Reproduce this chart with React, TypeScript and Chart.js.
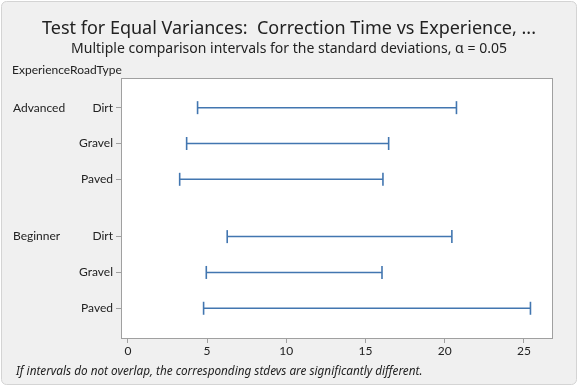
import { useEffect, useRef } from "react";
import { Chart, registerables } from "chart.js";

Chart.register(...registerables);

const TITLE = "Test for Equal Variances:  Correction Time vs Experience, ...";
const SUBTITLE = "Multiple comparison intervals for the standard deviations, α = 0.05";
const FACTOR_HEADER = "ExperienceRoadType";
const FOOTNOTE = "If intervals do not overlap, the corresponding stdevs are significantly different.";

const experienceLevels = ["Advanced", "Beginner"];
const roadTypes = ["Dirt", "Gravel", "Paved"];
// interval bounds, in row order: Advanced Dirt/Gravel/Paved, Beginner Dirt/Gravel/Paved
const lowerBounds = [4.4, 3.71, 3.27, 6.27, 4.95, 4.78];
const upperBounds = [20.74, 16.46, 16.1, 20.45, 16.04, 25.41];
const xTickValues = [0, 5, 10, 15, 20, 25];

const FONT = '"Noto Sans", sans-serif';
const LABEL_FONT = 'Lato, "Noto Sans", sans-serif';
const TEXT_COLOR = "#222222";
const LINE_COLOR = "#4276b0";
const GROUP_GAP = 0.6;

type Row = { level: string; road: string; pos: number; first: boolean };
const rows: Row[] = experienceLevels.flatMap((level, g) =>
  roadTypes.map((road, i) => ({
    level,
    road,
    pos: g * (roadTypes.length + GROUP_GAP) + i,
    first: i === 0,
  }))
);

const framePlugin = {
  id: "frame",
  beforeDraw(chart: any) {
    const { ctx, width, height, chartArea } = chart;
    ctx.save();
    ctx.fillStyle = "#ffffff";
    ctx.fillRect(0, 0, width, height);
    ctx.beginPath();
    ctx.roundRect(1.5, 1.5, width - 3, height - 3, 5);
    ctx.fillStyle = "#f0f0f0";
    ctx.fill();
    ctx.strokeStyle = "#d4d4d4";
    ctx.lineWidth = 1;
    ctx.stroke();
    ctx.fillStyle = "#ffffff";
    ctx.fillRect(chartArea.left, chartArea.top, chartArea.right - chartArea.left, chartArea.bottom - chartArea.top);
    ctx.restore();
  },
  beforeDatasetsDraw(chart: any) {
    const { ctx, chartArea } = chart;
    ctx.save();
    ctx.strokeStyle = "#a0a0a0";
    ctx.lineWidth = 1;
    ctx.strokeRect(
      Math.round(chartArea.left) - 0.5,
      Math.round(chartArea.top) - 0.5,
      Math.round(chartArea.right - chartArea.left) + 1,
      Math.round(chartArea.bottom - chartArea.top) + 1
    );
    ctx.restore();
  },
  afterDraw(chart: any) {
    const { ctx } = chart;
    const yScale = chart.scales.y;
    ctx.save();
    ctx.fillStyle = TEXT_COLOR;
    ctx.textAlign = "left";
    ctx.textBaseline = "middle";
    ctx.font = `12px ${LABEL_FONT}`;
    ctx.fillText(FACTOR_HEADER, 12, 70);
    rows.forEach((r) => {
      if (r.first) ctx.fillText(r.level, 13, yScale.getPixelForValue(r.pos));
    });
    ctx.font = `italic 11.75px ${FONT}`;
    ctx.fillText(FOOTNOTE, 16, 372);
    ctx.restore();
  },
};

export default function App() {
  const canvasRef = useRef<HTMLCanvasElement | null>(null);

  useEffect(() => {
    if (!canvasRef.current) return;
    const datasets = rows.map((r, idx) => ({
      label: `${r.level} ${r.road}`,
      data: [
        { x: lowerBounds[idx], y: r.pos },
        { x: upperBounds[idx], y: r.pos },
      ],
      borderColor: LINE_COLOR,
      backgroundColor: LINE_COLOR,
      borderWidth: 1.5,
      pointStyle: "line",
      rotation: 90,
      pointRadius: 6.5,
      pointBorderWidth: 1.6,
      pointBorderColor: LINE_COLOR,
      pointHoverRadius: 6.5,
      fill: false,
    }));

    const chart = new Chart(canvasRef.current, {
      type: "line",
      data: { datasets },
      plugins: [framePlugin],
      options: {
        responsive: false,
        animation: false,
        layout: { padding: 0 },
        plugins: {
          legend: { display: false },
          tooltip: { enabled: false },
          title: {
            display: true,
            text: TITLE,
            color: TEXT_COLOR,
            font: { family: FONT, size: 18, weight: "normal" },
            padding: { top: 18, bottom: 0 },
          },
          subtitle: {
            display: true,
            text: SUBTITLE,
            color: TEXT_COLOR,
            font: { family: FONT, size: 14, weight: "normal" },
            padding: { top: 1, bottom: 21.6 },
          },
        },
        scales: {
          x: {
            type: "linear",
            position: "bottom",
            min: -0.37,
            max: 26.77,
            afterBuildTicks: (axis: any) => {
              axis.ticks = xTickValues.map((v) => ({ value: v }));
            },
            afterFit: (axis: any) => {
              axis.height = 48;
            },
            border: { display: false },
            grid: { drawOnChartArea: false, drawTicks: true, tickLength: 5, color: "#a0a0a0" },
            ticks: {
              autoSkip: false,
              maxRotation: 0,
              padding: 1,
              color: TEXT_COLOR,
              font: { family: LABEL_FONT, size: 12 },
            },
          },
          y: {
            type: "linear",
            reverse: true,
            min: -0.8,
            max: 6.43,
            afterBuildTicks: (axis: any) => {
              axis.ticks = rows.map((r) => ({ value: r.pos }));
            },
            afterFit: (axis: any) => {
              axis.width = 122;
            },
            border: { display: false },
            grid: { drawOnChartArea: false, drawTicks: true, tickLength: 6, color: "#a0a0a0" },
            ticks: {
              autoSkip: false,
              padding: 3,
              color: TEXT_COLOR,
              font: { family: LABEL_FONT, size: 12 },
              callback: (_v: any, index: number) => rows[index]?.road ?? "",
            },
          },
          rightMargin: {
            type: "linear",
            position: "right",
            display: true,
            afterFit: (axis: any) => {
              axis.width = 26;
            },
            border: { display: false },
            grid: { display: false },
            ticks: { display: false },
          },
        },
      },
    });
    return () => chart.destroy();
  }, []);

  return (
    <div style={{ position: "absolute", left: 0, top: 0, width: 578, height: 386 }}>
      <canvas ref={canvasRef} width={578} height={386} />
    </div>
  );
}
